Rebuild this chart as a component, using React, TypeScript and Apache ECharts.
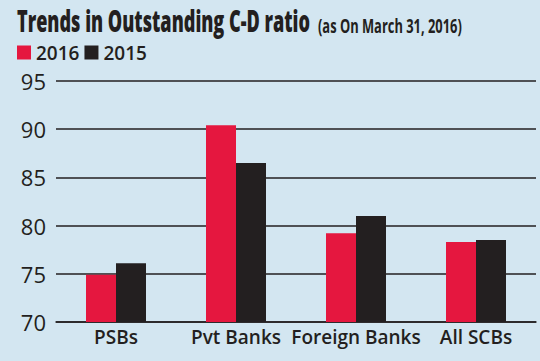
import React, { useEffect, useRef } from "react";
import * as echarts from "echarts";

const categories = ["PSBs", "Pvt Banks", "Foreign Banks", "All SCBs"];
const values2016 = [74.9, 90.4, 79.2, 78.3];
const values2015 = [76.1, 86.5, 81.0, 78.5];
const seriesNames = ["2016", "2015"];
const yTicks = [70, 75, 80, 85, 90, 95];

const titleText = "Trends in Outstanding C-D ratio";
const subText = "(as On March 31, 2016)";

function measure(text: string, font: string): number {
  const c = document.createElement("canvas");
  const ctx = c.getContext("2d");
  if (!ctx) return 1;
  ctx.font = font;
  return ctx.measureText(text).width || 1;
}

export default function App() {
  const ref = useRef<HTMLDivElement>(null);
  useEffect(() => {
    if (!ref.current) return;
    const chart = echarts.init(ref.current, undefined, { renderer: "svg" });
    const titleFont = "800 30px 'Open Sans'";
    const subFont = "bold 19px 'Open Sans'";
    const tScale = 293 / measure(titleText, titleFont);
    const sScale = 144 / measure(subText, subFont);
    chart.setOption({
      animation: false,
      backgroundColor: "#d3e6f1",
      graphic: [
        {
          type: "text",
          x: 17,
          y: 35,
          scaleX: tScale,
          style: {
            text: titleText,
            font: titleFont,
            fill: "#231f20",
            textVerticalAlign: "bottom",
          },
        },
        {
          type: "text",
          x: 318,
          y: 35,
          scaleX: sScale,
          style: {
            text: subText,
            font: subFont,
            fill: "#231f20",
            textVerticalAlign: "bottom",
          },
        },
      ],
      legend: {
        left: 17,
        top: 43,
        itemWidth: 14,
        itemHeight: 14,
        itemGap: 5,
        icon: "rect",
        padding: 0,
        textStyle: {
          fontFamily: "Open Sans",
          fontSize: 19,
          fontWeight: 600,
          color: "#231f20",
        },
        data: seriesNames,
      },
      grid: { left: 56, right: 4, top: 81, bottom: 39 },
      xAxis: {
        type: "category",
        data: categories,
        axisLine: { lineStyle: { color: "#231f20", width: 1.5 } },
        axisTick: { show: false },
        axisLabel: {
          interval: 0,
          fontFamily: "Open Sans",
          fontSize: 19,
          fontWeight: 600,
          color: "#231f20",
          margin: 5,
        },
      },
      yAxis: {
        type: "value",
        min: yTicks[0],
        max: yTicks[yTicks.length - 1],
        interval: 5,
        axisLine: { show: false },
        axisTick: { show: false },
        splitLine: { lineStyle: { color: "#231f20", width: 1.5 } },
        axisLabel: {
          fontFamily: "Open Sans",
          fontSize: 22,
          color: "#231f20",
          margin: 10,
        },
      },
      series: [
        {
          name: seriesNames[0],
          type: "bar",
          data: values2016,
          barWidth: 30,
          barGap: "0%",
          itemStyle: { color: "#e5173f" },
        },
        {
          name: seriesNames[1],
          type: "bar",
          data: values2015,
          barWidth: 30,
          barGap: "0%",
          itemStyle: { color: "#231f20" },
        },
      ],
    });
    return () => chart.dispose();
  }, []);
  return <div ref={ref} style={{ width: 540, height: 361, position: "absolute", left: 0, top: 0 }} />;
}
